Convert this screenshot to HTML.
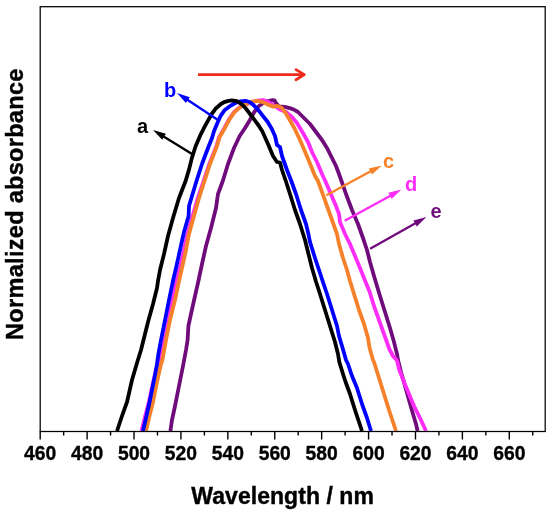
<!DOCTYPE html>
<html><head><meta charset="utf-8"><title>Normalized absorbance</title>
<style>
html,body{margin:0;padding:0;background:#fff;}
svg{display:block;}
text{font-family:"Liberation Sans",Arial,Helvetica,sans-serif;font-weight:bold;}
</style></head><body>
<svg width="550" height="513" viewBox="0 0 550 513">
<rect width="550" height="513" fill="#fff"/>
<defs><clipPath id="plot"><rect x="40" y="7" width="505" height="424.2"/></clipPath></defs>
<g clip-path="url(#plot)" fill="none" stroke-width="3.8" stroke-linejoin="round" stroke-linecap="butt">
<polyline stroke="#700b7c" points="170.4,431.0 172.0,420.0 175.0,406.0 179.0,386.0 183.0,366.0 186.0,350.0 187.6,340.0 188.4,326.0 191.0,314.0 195.0,296.0 198.4,281.0 202.0,264.0 206.0,246.0 211.0,228.0 216.0,208.0 218.0,194.0 222.8,181.0 228.0,164.0 234.0,148.0 239.7,136.0 245.5,127.3 249.9,120.0 254.3,112.0 258.6,106.2 264.5,102.2 269.5,100.8 272.5,100.2 274.6,100.4 275.8,102.8 279.0,106.4 284.8,106.9 290.6,108.4 294.3,109.8 298.0,112.0 304.0,118.0 310.0,124.0 316.0,132.0 322.0,140.0 327.0,148.0 331.0,156.0 336.0,166.0 339.0,174.0 341.5,181.0 346.0,194.0 352.0,210.0 358.0,224.0 363.0,238.0 367.0,250.0 370.0,262.0 374.0,276.0 375.5,281.0 380.0,296.0 385.0,312.0 390.0,328.0 394.0,342.0 397.0,354.0 398.0,360.0 401.0,372.0 405.0,386.0 409.0,400.0 413.0,414.0 416.0,424.0 417.6,431.0"/>
<polyline stroke="#ff2df7" points="141.5,431.0 144.7,418.0 148.9,402.0 153.2,382.0 157.5,364.0 158.9,360.0 162.8,340.0 167.1,320.0 172.4,300.0 176.6,281.0 179.8,268.0 184.1,250.0 187.3,234.0 192.6,216.0 197.8,198.0 203.6,181.0 209.3,164.0 216.5,146.0 218.9,137.5 224.0,128.7 229.0,119.3 234.1,112.0 239.2,107.6 243.6,105.1 257.0,100.7 263.0,100.1 268.0,101.9 273.0,105.0 277.0,107.5 280.5,109.8 286.0,112.0 292.0,117.0 297.0,123.0 303.0,133.0 308.0,142.0 312.0,152.0 317.0,162.0 322.0,174.0 325.3,181.0 330.0,192.0 336.0,206.0 339.0,214.0 340.0,222.0 345.0,234.0 350.0,244.0 355.0,256.0 360.0,268.0 365.0,280.5 369.7,292.0 374.0,306.0 379.0,320.0 384.0,334.0 389.3,349.0 393.0,356.0 397.0,360.5 399.0,369.0 404.0,382.0 409.0,394.0 414.0,406.0 420.0,418.0 426.0,431.0"/>
<polyline stroke="#f5822a" points="146.0,431.0 149.0,418.0 153.0,402.0 157.0,382.0 161.0,364.0 162.4,360.0 166.0,340.0 170.0,320.0 175.0,300.0 179.0,281.0 182.0,268.0 186.0,250.0 189.0,234.0 194.0,216.0 199.0,198.0 204.5,181.0 210.0,164.0 217.0,146.0 219.4,137.5 224.5,128.7 229.5,119.3 234.6,112.0 239.7,107.6 244.1,105.1 251.4,101.6 257.2,100.9 263.0,102.2 267.4,104.4 273.2,106.6 277.5,105.9 281.9,108.0 286.3,114.2 290.6,121.5 294.3,128.0 300.0,140.0 306.0,154.0 311.0,166.0 315.0,176.0 318.0,181.0 322.0,192.0 327.0,206.0 332.0,220.0 337.0,234.0 339.0,244.0 343.0,258.0 347.0,270.0 350.0,281.0 354.0,294.0 359.0,310.0 364.0,324.0 368.0,338.0 369.6,348.0 373.0,360.0 374.0,362.0 379.0,378.0 384.0,394.0 389.0,410.0 393.0,422.0 396.0,431.0"/>
<polyline stroke="#0000ff" points="143.0,431.0 146.0,418.0 150.0,400.0 154.0,380.0 157.0,364.0 158.4,354.0 161.0,340.0 165.0,320.0 169.0,300.0 173.0,281.0 176.0,268.0 180.0,250.0 184.0,232.0 188.6,216.0 189.0,206.0 192.0,196.0 196.5,181.0 202.0,164.0 208.0,148.0 212.0,138.0 213.9,131.5 217.5,122.8 220.4,116.2 224.8,109.9 229.5,106.4 235.4,103.0 240.5,101.3 245.5,100.8 249.9,102.2 253.5,105.1 257.9,109.5 262.3,115.2 267.4,121.5 271.7,128.7 275.0,136.0 277.0,145.0 280.0,147.0 282.0,156.0 287.0,170.0 291.3,181.0 296.0,194.0 301.0,210.0 306.0,224.0 308.4,234.0 310.0,242.0 315.0,258.0 319.0,270.0 322.6,281.0 327.0,294.0 332.0,310.0 337.0,326.0 339.0,336.0 342.0,346.0 346.0,360.0 348.0,364.0 352.0,376.0 357.0,388.0 362.0,404.0 367.0,418.0 371.0,431.0"/>
<polyline stroke="#000000" points="117.0,431.0 122.0,416.0 127.0,402.0 132.0,380.0 137.0,363.0 141.0,350.0 143.0,342.0 148.0,322.0 153.0,304.0 157.0,288.0 158.0,281.0 160.0,270.0 164.0,254.0 168.0,236.0 173.0,218.0 179.0,198.0 185.6,181.0 189.0,169.6 191.9,157.9 195.6,146.2 200.0,135.9 204.4,127.2 208.0,120.6 211.7,114.0 216.0,108.2 221.2,103.8 225.0,101.8 228.5,100.8 232.0,100.3 236.8,101.2 241.2,103.8 245.5,108.0 249.9,113.9 254.3,119.7 258.6,125.5 262.3,131.2 268.0,144.0 273.0,156.0 277.0,162.0 280.0,162.5 282.0,170.0 285.8,181.0 290.0,194.0 295.0,210.0 300.0,224.0 305.0,240.0 308.0,252.0 312.0,268.0 315.8,281.0 320.0,294.0 325.0,310.0 330.0,326.0 335.0,342.0 338.0,354.0 339.3,362.0 343.0,374.0 345.6,382.0 350.0,394.0 355.0,410.0 359.0,422.0 362.0,431.0"/>
</g>
<g>
<line x1="192.0" y1="154.0" x2="162.4" y2="135.8" stroke="#000000" stroke-width="2.3"/><polygon points="153.0,130.0 165.9,133.8 162.2,139.8" fill="#000000"/>
<line x1="218.0" y1="120.0" x2="186.2" y2="99.0" stroke="#0000ff" stroke-width="2.3"/><polygon points="177.0,93.0 189.8,97.2 185.9,103.1" fill="#0000ff"/>
<line x1="326.4" y1="195.2" x2="372.1" y2="170.6" stroke="#f5822a" stroke-width="2.3"/><polygon points="381.8,165.4 372.0,174.6 368.7,168.5" fill="#f5822a"/>
<line x1="344.7" y1="220.7" x2="391.8" y2="194.9" stroke="#ff2df7" stroke-width="2.3"/><polygon points="401.4,189.6 391.7,198.9 388.3,192.8" fill="#ff2df7"/>
<line x1="370.1" y1="248.7" x2="416.8" y2="222.5" stroke="#700b7c" stroke-width="2.3"/><polygon points="426.4,217.1 416.8,226.5 413.4,220.4" fill="#700b7c"/>
</g>
<g fill="none" stroke="#ee2a1c" stroke-width="2.8" stroke-linecap="round" stroke-linejoin="round">
<line x1="198" y1="74.6" x2="304" y2="74.6" stroke-linecap="butt"/>
<polyline points="296,69.6 304.3,74.6 296,79.7"/>
</g>
<rect x="40.2" y="6.7" width="505" height="424.8" fill="none" stroke="#000" stroke-width="1.25"/>
<g stroke="#000" stroke-width="1.4">
<line x1="40.20" y1="431.5" x2="40.20" y2="439.5"/><line x1="63.66" y1="431.5" x2="63.66" y2="435.5"/><line x1="87.11" y1="431.5" x2="87.11" y2="439.5"/><line x1="110.56" y1="431.5" x2="110.56" y2="435.5"/><line x1="134.02" y1="431.5" x2="134.02" y2="439.5"/><line x1="157.47" y1="431.5" x2="157.47" y2="435.5"/><line x1="180.93" y1="431.5" x2="180.93" y2="439.5"/><line x1="204.38" y1="431.5" x2="204.38" y2="435.5"/><line x1="227.84" y1="431.5" x2="227.84" y2="439.5"/><line x1="251.30" y1="431.5" x2="251.30" y2="435.5"/><line x1="274.75" y1="431.5" x2="274.75" y2="439.5"/><line x1="298.20" y1="431.5" x2="298.20" y2="435.5"/><line x1="321.66" y1="431.5" x2="321.66" y2="439.5"/><line x1="345.11" y1="431.5" x2="345.11" y2="435.5"/><line x1="368.57" y1="431.5" x2="368.57" y2="439.5"/><line x1="392.02" y1="431.5" x2="392.02" y2="435.5"/><line x1="415.48" y1="431.5" x2="415.48" y2="439.5"/><line x1="438.94" y1="431.5" x2="438.94" y2="435.5"/><line x1="462.39" y1="431.5" x2="462.39" y2="439.5"/><line x1="485.84" y1="431.5" x2="485.84" y2="435.5"/><line x1="509.30" y1="431.5" x2="509.30" y2="439.5"/><line x1="532.75" y1="431.5" x2="532.75" y2="435.5"/>
</g>
<g font-size="19.3" text-anchor="middle" fill="#000" stroke="#000" stroke-width="0.35">
<text x="40.20" y="460.2">460</text><text x="87.11" y="460.2">480</text><text x="134.02" y="460.2">500</text><text x="180.93" y="460.2">520</text><text x="227.84" y="460.2">540</text><text x="274.75" y="460.2">560</text><text x="321.66" y="460.2">580</text><text x="368.57" y="460.2">600</text><text x="415.48" y="460.2">620</text><text x="462.39" y="460.2">640</text><text x="509.30" y="460.2">660</text>
</g>
<g font-size="20">
<text x="137" y="133.2" fill="#000000">a</text>
<text x="164" y="97.2" fill="#0000ff">b</text>
<text x="383" y="168.1" fill="#f5822a">c</text>
<text x="405" y="191.2" fill="#ff2df7">d</text>
<text x="430.5" y="217.8" fill="#700b7c">e</text>
</g>
<text x="282.6" y="504.0" font-size="23" textLength="182.6" lengthAdjust="spacing" text-anchor="middle" fill="#000" stroke="#000" stroke-width="0.4">Wavelength / nm</text>
<text transform="translate(22.5,204.3) rotate(-90)" font-size="23.5" textLength="271.3" lengthAdjust="spacing" text-anchor="middle" fill="#000" stroke="#000" stroke-width="0.4">Normalized absorbance</text>
</svg>
</body></html>
